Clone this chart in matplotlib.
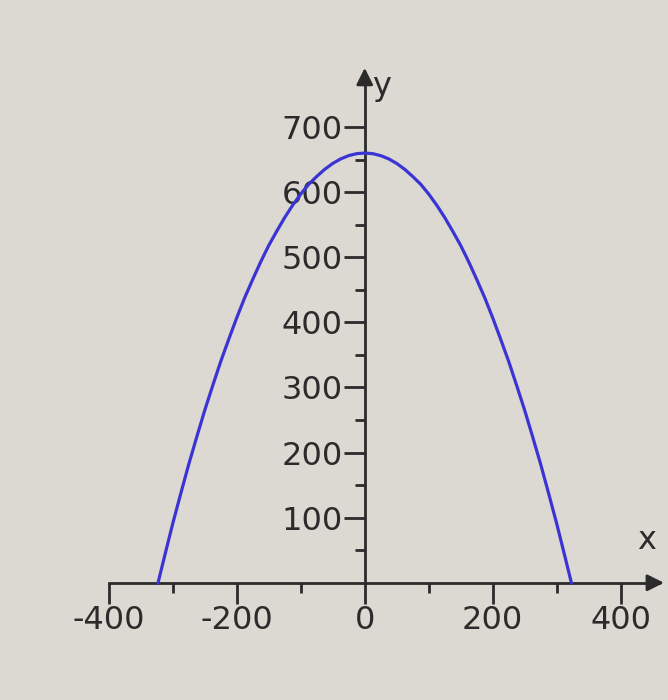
import matplotlib.pyplot as plt

# values
x_vals = [-323, -312.5, -300, -287.5, -275, -262.5, -250, -237.5, -225, -212.5, -200,
          -187.5, -175, -162.5, -150, -137.5, -125, -112.5, -100, -87.5, -75, -62.5,
          -50, -37.5, -25, -12.5, 0, 12.5, 25, 37.5, 50, 62.5, 75, 87.5, 100, 112.5,
          125, 137.5, 150, 162.5, 175, 187.5, 200, 212.5, 225, 237.5, 250, 262.5,
          275, 287.5, 300, 312.5, 323]
y_vals = [0, 42, 91, 137, 182, 224, 265, 303, 340, 374, 407,
          438, 466, 493, 518, 540, 561, 580, 597, 612, 624, 635,
          644, 651, 656, 659, 660, 659, 656, 651, 644, 635, 624, 612, 597, 580,
          561, 540, 518, 493, 466, 438, 407, 374, 340, 303, 265, 224,
          182, 137, 91, 42, 0]

x_major = [-400, -200, 0, 200, 400]
x_minor = [-300, -100, 100, 300]
y_major = [100, 200, 300, 400, 500, 600, 700]
y_minor = [50, 150, 250, 350, 450, 550, 650]

bg = '#dbd9d2'
ink = '#2b2b2b'

plt.rcParams['font.family'] = ['DejaVu Sans']
plt.rcParams['axes.unicode_minus'] = False

fig = plt.figure(figsize=(6.68, 7.0), dpi=100, facecolor=bg)
ax = fig.add_axes([0, 0, 1, 1], facecolor=bg)
ax.set_xlim(-570, 474)
ax.set_ylim(-180, 895)

ax.plot(x_vals, y_vals, color='#3b34d4', lw=2.3, zorder=3)

# axes through the origin
for s in ['top', 'right']:
    ax.spines[s].set_visible(False)
ax.spines['left'].set_position(('data', 0))
ax.spines['bottom'].set_position(('data', 0))
ax.spines['left'].set_bounds(0, 780)
ax.spines['bottom'].set_bounds(-400, 460)
for s in ['left', 'bottom']:
    ax.spines[s].set_linewidth(2.0)
    ax.spines[s].set_color(ink)

ax.set_xticks(x_major)
ax.set_xticks(x_minor, minor=True)
ax.set_yticks(y_major)
ax.set_yticks(y_minor, minor=True)
ax.tick_params(which='major', direction='out', length=15, width=2.0, color=ink,
               labelsize=23, labelcolor=ink, pad=1)
ax.tick_params(which='minor', direction='out', length=7, width=2.0, color=ink)

# arrow heads
ax.annotate('', xy=(472, 0), xytext=(440, 0),
            arrowprops=dict(arrowstyle='-|>', color=ink, lw=2, mutation_scale=25))
ax.annotate('', xy=(0, 795), xytext=(0, 760),
            arrowprops=dict(arrowstyle='-|>', color=ink, lw=2, mutation_scale=25))

ax.text(440, 65, 'x', fontsize=23, color=ink, ha='center', va='center')
ax.text(27, 762, 'y', fontsize=23, color=ink, ha='center', va='center')

fig.savefig('out.png', dpi=100, facecolor=bg)
